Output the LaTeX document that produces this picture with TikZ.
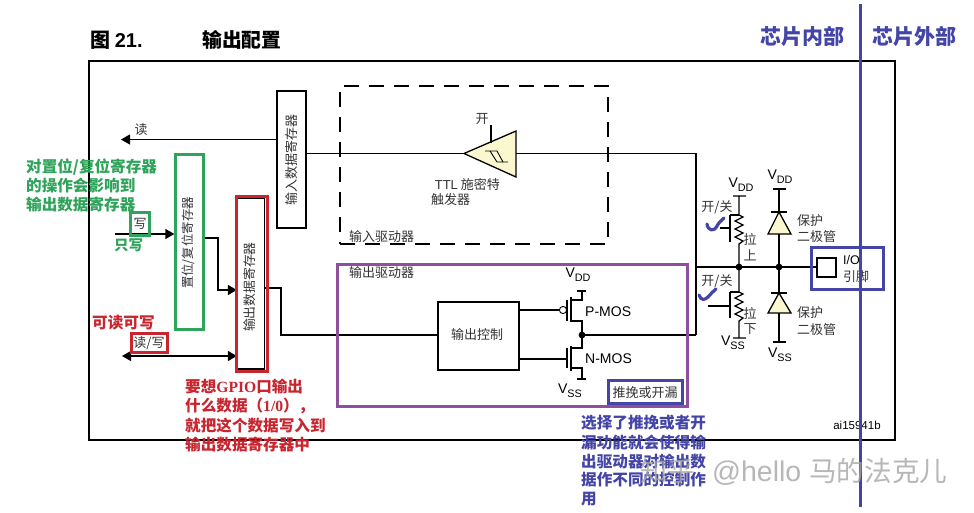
\documentclass[tikz,border=0pt]{standalone}
\usepackage{fontspec}
\setmainfont{Noto Sans CJK SC}
\newfontfamily\lat{Liberation Sans}
\newfontfamily\latser{Liberation Serif}
\usetikzlibrary{arrows.meta,calc}
\definecolor{ggreen}{HTML}{2EA35A}
\definecolor{rred}{HTML}{C9252F}
\definecolor{ppurple}{HTML}{8E4F9E}
\definecolor{bblue}{HTML}{4545A8}
\definecolor{ink}{HTML}{333333}
\definecolor{tri}{HTML}{FBF8D0}
\newcommand{\fs}[1]{\fontsize{#1}{#1}\selectfont}
\newcommand{\vsup}[1]{{\lat V\raisebox{-0.28em}{\fs{10.8}#1}}}
\tikzset{
  lbl/.style={inner sep=0pt,text=ink,font=\fs{13}},
  lbll/.style={lbl,anchor=west},
  latl/.style={inner sep=0pt,text=black,font=\lat\fs{14}},
  wire/.style={draw=black,line width=1.3pt},
  reg/.style={draw=black,line width=1.3pt,fill=white,inner sep=0pt},
  tipS/.style={-{Triangle[length=9pt,width=10pt]}},
  tipB/.style={{Triangle[length=9pt,width=10pt]}-{Triangle[length=9pt,width=10pt]}},
  note/.style={inner sep=0pt,anchor=west,font=\bfseries\fs{15.6}},
  tick/.style={draw=bblue,line width=3.2pt,line cap=round,line join=round},
  colbox/.style={line width=3pt,fill=none,inner sep=0pt},
}
\begin{document}
\begin{tikzpicture}[x=1pt,y=-1pt]
\useasboundingbox (0,0) rectangle (974,512);
\fill[white] (0,0) rectangle (974,512);
% outer frame
\node[draw=black,line width=2pt,minimum width=806pt,minimum height=379pt,inner sep=0pt] (frame) at (492,250) {};
% titles
\node[inner sep=0pt,anchor=west,font=\bfseries\fs{20}] (fig) at (90,40) {图 {\lat\bfseries 21.}};
\node[inner sep=0pt,anchor=west,font=\bfseries\fs{19.8}] (figt) at (202,40) {输出配置};
\node[inner sep=0pt,text=bblue,font=\fs{21}\bfseries] (inside) at (802.5,36) {芯片内部};
\node[inner sep=0pt,text=bblue,font=\fs{21}\bfseries] (outside) at (914.5,36) {芯片外部};
% registers
\node[reg,minimum width=29pt,minimum height=137pt] (inreg) at (291.5,159.5) {};
\node[lbl,rotate=90,font=\fs{13}] (inregt) at (292,160) {输入数据寄存器};
\node[reg,minimum width=28pt,minimum height=174pt] (setreg) at (189,241.5) {};
\node[lbl,rotate=90,font=\fs{12.4}] (setregt) at (188,243) {置位/复位寄存器};
\node[reg,minimum width=27pt,minimum height=171pt] (outreg) at (251,283.5) {};
\node[lbl,rotate=90,font=\fs{12.8}] (outregt) at (250,287) {输出数据寄存器};
% input driver
\node[draw=black,line width=1.1pt,dash pattern=on 15pt off 10pt,minimum width=268pt,minimum height=158pt,inner sep=0pt] (indrv) at (474,165) {};
\node[lbll,fill=white,inner xsep=1pt] (indrvt) at (348,237) {输入驱动器};
% trigger
\coordinate (trigtip) at (464,153.5);
\coordinate (trigtop) at (516,131);
\coordinate (trigbot) at (516,177);
\coordinate (trigout) at (516,153.5);
\coordinate (rail) at (696,153.5);
\coordinate (railbot) at (696,335);
\draw[wire] (inreg.east |- trigtip) -- (trigtip);
\draw[wire,fill=tri] (trigtip) -- (trigtop) -- (trigbot) -- cycle;
\draw[wire] (trigout) -- (rail) -- (railbot);
\draw[black,line width=.9pt] (485,151) -- (497,151) (490,151) -- (497,162) (497,151) -- (503,162) (497,162) -- (508,162);
\node[lbl] (on) at (482,119) {开};
\coordinate (enT) at (491,125);
\draw[wire] (enT) -- (491,143);
\node[lbll] (ttl) at (431,184) {{\lat\fs{13} TTL} 施密特};
\node[lbll] (ttl2) at (431,200) {触发器};
% left arrows
\coordinate (rdtip) at (121,139.5);
\draw[wire,tipS] (inreg.west |- rdtip) -- (rdtip);
\node[lbl] (rd) at (141,130) {读};
\coordinate (wrS) at (115,234);
\draw[wire,tipS] (wrS) -- (setreg.west |- wrS);
\node[lbl] (wr) at (140,224) {写};
\node[draw=ggreen,colbox,minimum width=19pt,minimum height=23pt] (wrbox) at (139.5,223.5) {};
\coordinate (s1) at (218,238);
\coordinate (s2) at (218,290);
\draw[wire,tipS] (setreg.east |- s1) -- (s1) -- (s2) -- (outreg.west |- s2);
\coordinate (rwL) at (122,356);
\draw[wire,tipB] (rwL) -- (outreg.west |- rwL);
\node[lbl] (rw) at (149,343) {读/写};
\node[draw=rred,colbox,minimum width=36pt,minimum height=19pt] (rwbox) at (149.5,343) {};
% output control
\node[draw=black,line width=1.3pt,minimum width=81pt,minimum height=68pt,inner sep=0pt] (ctl) at (478.5,336) {};
\node[lbl] (ctlt) at (477,335) {输出控制};
\coordinate (o1) at (281,288);
\coordinate (o2) at (281,335);
\draw[wire] (outreg.east |- o1) -- (o1) -- (o2) -- (ctl.west |- o2);
\node[lbll] (outdrvt) at (349,273) {输出驱动器};
% P-MOS
\coordinate (pg) at (559,310);
\coordinate (ng) at (567,359);
\coordinate (mid) at (582,335);
\draw[wire] (ctl.east |- pg) -- (pg);
\draw[black,line width=.9pt] (563,310) circle (3.6pt);
\draw[wire] (567,300) -- (567,321);
\draw[wire] (571,297) -- (571,322);
\draw[wire] (577,291) -- (586,291) (582,291) -- (582,300) -- (571,300);
\draw[wire] (571,321) -- (582,321) -- (mid);
% N-MOS
\draw[wire] (ctl.east |- ng) -- (ng);
\draw[wire] (567,348) -- (567,368);
\draw[wire] (571,346) -- (571,371);
\draw[wire] (mid) -- (582,348) -- (571,348);
\draw[wire] (571,368) -- (582,368) -- (582,379) (577,379) -- (586,379);
\fill[black] (mid) circle (3.4pt);
\draw[wire] (mid) -- (railbot);
\node[latl] (vdd1) at (578,275) {\vsup{DD}};
\node[latl] (vss1) at (570,391) {\vsup{SS}};
\node[latl,anchor=west] (pmos) at (585,312) {P-MOS};
\node[latl,anchor=west] (nmos) at (585,359) {N-MOS};
\node[lbl] (pp) at (645,393) {推挽或开漏};
% pull-up / pull-down
\coordinate (j1) at (739,267);
\coordinate (j2) at (779,267);
\coordinate (padin) at (817,267);
\draw[wire] (rail |- j1) -- (padin);
\draw[wire] (733,196) -- (746,196) (739,196) -- (739,215) -- ++(4,2) -- ++(-8,4) -- ++(8,4) -- ++(-8,4) -- ++(8,4) -- ++(-8,4) -- ++(8,4) -- ++(-4,3) -- (j1);
\draw[wire] (730,215) -- (730,242) (730,215) -- (739,215);
\draw[wire] (720,228) -- (730,228);
\draw[wire] (j1) -- (739,292) -- ++(4,2) -- ++(-8,4) -- ++(8,4) -- ++(-8,4) -- ++(8,4) -- ++(-8,4) -- ++(8,4) -- ++(-4,3) -- (739,338) (733,338) -- (746,338);
\draw[wire] (730,292) -- (730,318) (730,292) -- (739,292);
\draw[wire] (708,306) -- (730,306);
\fill[black] (j1) circle (3.4pt);
\node[latl] (vdd2) at (741,185) {\vsup{DD}};
\node[latl] (vss2) at (733,343) {\vsup{SS}};
\node[lbl] (sw1) at (717,207) {开/关};
\node[lbl] (sw2) at (717,281) {开/关};
\node[lbl] (pu1) at (750,240) {拉};
\node[lbl] (pu2) at (750,255) {上};
\node[lbl] (pd1) at (750,314) {拉};
\node[lbl] (pd2) at (750,329) {下};
% diodes
\draw[wire] (773,189) -- (786,189) (779,189) -- (779,342) (773,342) -- (786,342);
\draw[wire,fill=tri] (779,212) -- (768,234) -- (791,234) -- cycle;
\draw[wire] (771,212) -- (787,212);
\draw[wire,fill=tri] (779,293) -- (768,313) -- (791,313) -- cycle;
\draw[wire] (771,293) -- (787,293);
\fill[black] (j2) circle (3.4pt);
\node[latl] (vdd3) at (780,177) {\vsup{DD}};
\node[latl] (vss3) at (780,355) {\vsup{SS}};
\node[lbll] (dp1) at (797,221) {保护};
\node[lbll] (dp2) at (797,237) {二极管};
\node[lbll] (dn1) at (797,313) {保护};
\node[lbll] (dn2) at (797,330) {二极管};
% pad
\node[draw=black,line width=1.3pt,minimum width=19pt,minimum height=19pt,inner sep=0pt] (pad) at (826.5,267.5) {};
\node[latl,anchor=west,font=\lat\fs{12.5}] (iot) at (843,260) {I/O};
\node[lbll] (yj) at (843,277) {引脚};
\node[inner sep=0pt,font=\lat\fs{11.5}] (ai) at (857,425) {ai15941b};
% vertical divider
\coordinate (divtop) at (860,4);
\coordinate (divbot) at (860,507);
\draw[bblue,line width=3pt] (divtop) -- (divbot);
% coloured overlays
\node[draw=ggreen,colbox,minimum width=28pt,minimum height=175pt] (setbox) at (189,241.5) {};
\node[draw=rred,colbox,minimum width=31pt,minimum height=175pt] (outbox) at (251.5,283.5) {};
\node[draw=ppurple,colbox,minimum width=350pt,minimum height=142pt] (drvbox) at (512.5,335) {};
\node[draw=bblue,colbox,minimum width=74pt,minimum height=23pt] (ppbox) at (645,391.5) {};
\node[draw=bblue,colbox,minimum width=72pt,minimum height=42pt] (iobox) at (847,268) {};
% ticks
\draw[tick] (707,224) .. controls (708,231) and (714,232) .. (717,226) .. controls (719,222) and (722,220) .. (724,218);
\draw[tick] (699,295) .. controls (701,301) and (705,300) .. (708,297) .. controls (711,294) and (713,291) .. (716,289);
% annotations
\node[note,text=ggreen] (g1) at (26,167) {对置位/复位寄存器};
\node[note,text=ggreen] (g2) at (26,186) {的操作会影响到};
\node[note,text=ggreen] (g3) at (26,205) {输出数据寄存器};
\node[note,text=ggreen,font=\bfseries\fs{14.5}] (g4) at (114,245) {只写};
\node[note,text=rred] (r0) at (92,323) {可读可写};
\node[note,text=rred] (r1) at (185,387) {要想{\latser\bfseries GPIO}口输出};
\node[note,text=rred] (r2) at (185,406) {什么数据（{\latser\bfseries 1/0}），};
\node[note,text=rred] (r3) at (185,426) {就把这个数据写入到};
\node[note,text=rred] (r4) at (185,445) {输出数据寄存器中};
\node[note,text=bblue] (b1) at (581,423) {选择了推挽或者开};
\node[note,text=bblue] (b2) at (581,443) {漏功能就会使得输};
\node[note,text=bblue] (b3) at (581,462) {出驱动器对输出数};
\node[note,text=bblue] (b4) at (581,480) {据作不同的控制作};
\node[note,text=bblue] (b5) at (581,499) {用};
% watermark
\node[inner sep=0pt,anchor=west,text=gray!70,opacity=.8,font=\fs{27}] (wm) at (640,472) {知乎\hspace{18pt}{\lat\fs{28.5}@hello}\hspace{8pt}{\fs{27.6}马的法克儿}};
\end{tikzpicture}
\end{document}
